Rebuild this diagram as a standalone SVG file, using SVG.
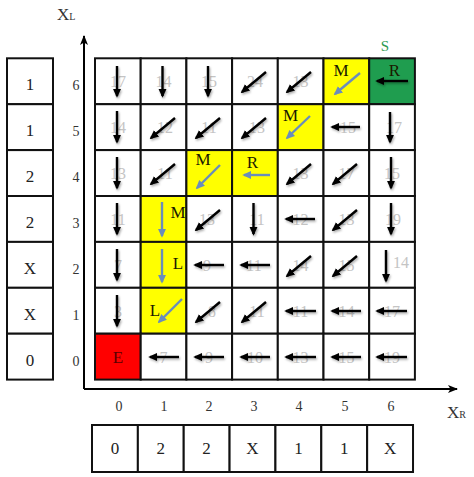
<svg xmlns="http://www.w3.org/2000/svg" width="474" height="477" viewBox="0 0 474 477">
<style>
text{font-family:"Liberation Serif","Times New Roman",serif;}
.cell{fill:#fff;stroke:#111;stroke-width:2;}
.yel{fill:#ffff00;}
.grn{fill:#1f9d4f;}
.red{fill:#ff0000;}
.tb{fill:#fff;stroke:#111;stroke-width:2;}
.ghost{font-size:16px;fill:#c4c4c4;text-anchor:middle;}
.lab{font-size:17px;fill:#222;text-anchor:middle;}
.ax{font-size:14px;fill:#333;text-anchor:middle;}
.ltr{font-size:17px;fill:#1a1a00;text-anchor:middle;}
.a{stroke:#000;stroke-width:2.4;fill:none;marker-end:url(#hb);filter:url(#sh);}
.b{stroke:#6a8dbb;stroke-width:2.4;fill:none;marker-end:url(#hl);}
.axis{stroke:#000;stroke-width:2;fill:none;marker-end:url(#ha);}
</style>
<defs>
<filter id="sh" filterUnits="userSpaceOnUse" x="0" y="0" width="474" height="477"><feDropShadow dx="1" dy="1.5" stdDeviation="1" flood-color="#000" flood-opacity="0.35"/></filter>
<marker id="hb" viewBox="0 0 10 10" refX="8" refY="5" markerWidth="9" markerHeight="9" markerUnits="userSpaceOnUse" orient="auto"><path d="M0,0.5 L10,5 L0,9.5 z" fill="#000"/></marker>
<marker id="hl" viewBox="0 0 10 10" refX="8" refY="5" markerWidth="9" markerHeight="9" markerUnits="userSpaceOnUse" orient="auto"><path d="M0,0.5 L10,5 L0,9.5 z" fill="#6a8dbb"/></marker>
<marker id="ha" viewBox="0 0 10 10" refX="9" refY="5" markerWidth="10" markerHeight="10" markerUnits="userSpaceOnUse" orient="auto"><path d="M0,1 L10,5 L0,9 L2.5,5 z" fill="#000"/></marker>
</defs>

<g id="axes">
<path class="axis" d="M84,389 V36"/>
<path class="axis" d="M84,389 H457"/>
<text x="57" y="20" style="font-size:17px;fill:#333">X<tspan style="font-size:10px">L</tspan></text>
<text x="447" y="418" style="font-size:17px;fill:#333">X<tspan style="font-size:10px">R</tspan></text>
<text x="385" y="51" style="font-size:15px;fill:#2e9a52;text-anchor:middle">S</text>
</g>

<g id="row-labels" class="ax">
<text x="76" y="90">6</text><text x="76" y="136">5</text><text x="76" y="182">4</text><text x="76" y="228">3</text><text x="76" y="274">2</text><text x="76" y="320">1</text><text x="76" y="366">0</text>
</g>
<g id="col-labels" class="ax">
<text x="119" y="411">0</text><text x="164" y="411">1</text><text x="209" y="411">2</text><text x="254" y="411">3</text><text x="299" y="411">4</text><text x="345" y="411">5</text><text x="391" y="411">6</text>
</g>

<g id="left-table">
<rect class="tb" x="7" y="58.3" width="46" height="45.9"/><text class="lab" x="30" y="90">1</text>
<rect class="tb" x="7" y="104.2" width="46" height="45.9"/><text class="lab" x="30" y="136">1</text>
<rect class="tb" x="7" y="150.1" width="46" height="45.9"/><text class="lab" x="30" y="182">2</text>
<rect class="tb" x="7" y="196" width="46" height="45.9"/><text class="lab" x="30" y="228">2</text>
<rect class="tb" x="7" y="241.9" width="46" height="45.9"/><text class="lab" x="30" y="274">X</text>
<rect class="tb" x="7" y="287.8" width="46" height="45.9"/><text class="lab" x="30" y="320">X</text>
<rect class="tb" x="7" y="333.7" width="46" height="45.9"/><text class="lab" x="30" y="366">0</text>
</g>

<g id="bottom-table">
<rect class="tb" x="92" y="425" width="45.86" height="47"/><text class="lab" x="114.9" y="454">0</text>
<rect class="tb" x="137.86" y="425" width="45.86" height="47"/><text class="lab" x="160.8" y="454">2</text>
<rect class="tb" x="183.72" y="425" width="45.86" height="47"/><text class="lab" x="206.6" y="454">2</text>
<rect class="tb" x="229.58" y="425" width="45.86" height="47"/><text class="lab" x="252.5" y="454">X</text>
<rect class="tb" x="275.44" y="425" width="45.86" height="47"/><text class="lab" x="298.4" y="454">1</text>
<rect class="tb" x="321.3" y="425" width="45.86" height="47"/><text class="lab" x="344.2" y="454">1</text>
<rect class="tb" x="367.16" y="425" width="45.86" height="47"/><text class="lab" x="390.1" y="454">X</text>
</g>

<!-- Row 6 -->
<g id="c0-6"><rect class="cell" x="95" y="58.3" width="45.7" height="45.9"/><text class="ghost" x="118" y="87">17</text><path class="a" d="M117,66 V96"/></g>
<g id="c1-6"><rect class="cell" x="140.7" y="58.3" width="45.7" height="45.9"/><text class="ghost" x="163.5" y="87">14</text><path class="a" d="M162.5,66 V96"/></g>
<g id="c2-6"><rect class="cell" x="186.4" y="58.3" width="45.7" height="45.9"/><text class="ghost" x="209" y="87">15</text><path class="a" d="M208,66 V96"/></g>
<g id="c3-6"><rect class="cell" x="232.1" y="58.3" width="45.7" height="45.9"/><text class="ghost" x="255" y="87">24</text><path class="a" d="M266,72 L242,92"/></g>
<g id="c4-6"><rect class="cell" x="277.8" y="58.3" width="45.7" height="45.9"/><text class="ghost" x="300.5" y="87">13</text><path class="a" d="M311,72 L287,92"/></g>
<g id="c5-6"><rect class="cell yel" x="323.5" y="58.3" width="45.7" height="45.9"/><text class="ltr" x="341" y="76">M</text><path class="b" d="M360,73 L335,94"/></g>
<g id="c6-6"><rect class="cell grn" x="369.2" y="58.3" width="45.7" height="45.9"/><text class="ltr" x="394.5" y="76">R</text><path class="a" d="M408,81 H377"/></g>

<!-- Row 5 -->
<g id="c0-5"><rect class="cell" x="95" y="104.2" width="45.7" height="45.9"/><text class="ghost" x="118" y="133">14</text><path class="a" d="M117,111 V142"/></g>
<g id="c1-5"><rect class="cell" x="140.7" y="104.2" width="45.7" height="45.9"/><text class="ghost" x="165" y="133">12</text><path class="a" d="M175,118 L151,138"/></g>
<g id="c2-5"><rect class="cell" x="186.4" y="104.2" width="45.7" height="45.9"/><text class="ghost" x="209" y="133">11</text><path class="a" d="M220,118 L196,138"/></g>
<g id="c3-5"><rect class="cell" x="232.1" y="104.2" width="45.7" height="45.9"/><text class="ghost" x="257" y="133">13</text><path class="a" d="M266,118 L242,138"/></g>
<g id="c4-5"><rect class="cell yel" x="277.8" y="104.2" width="45.7" height="45.9"/><text class="ltr" x="290.5" y="121">M</text><path class="b" d="M310,116 L287,138"/></g>
<g id="c5-5"><rect class="cell" x="323.5" y="104.2" width="45.7" height="45.9"/><text class="ghost" x="348" y="133">15</text><path class="a" d="M360,127 H332"/></g>
<g id="c6-5"><rect class="cell" x="369.2" y="104.2" width="45.7" height="45.9"/><text class="ghost" x="394" y="133">17</text><path class="a" d="M390,112 V142"/></g>

<!-- Row 4 -->
<g id="c0-4"><rect class="cell" x="95" y="150.1" width="45.7" height="45.9"/><text class="ghost" x="118" y="179">13</text><path class="a" d="M117,157 V188"/></g>
<g id="c1-4"><rect class="cell" x="140.7" y="150.1" width="45.7" height="45.9"/><text class="ghost" x="165" y="179">11</text><path class="a" d="M175,164 L151,184"/></g>
<g id="c2-4"><rect class="cell yel" x="186.4" y="150.1" width="45.7" height="45.9"/><text class="ltr" x="203" y="165">M</text><path class="b" d="M220,165 L197,188"/></g>
<g id="c3-4"><rect class="cell yel" x="232.1" y="150.1" width="45.7" height="45.9"/><text class="ltr" x="252.5" y="168">R</text><path class="b" d="M270,175 H244"/></g>
<g id="c4-4"><rect class="cell" x="277.8" y="150.1" width="45.7" height="45.9"/><text class="ghost" x="300.5" y="179">13</text><path class="a" d="M311,164 L287,184"/></g>
<g id="c5-4"><rect class="cell" x="323.5" y="150.1" width="45.7" height="45.9"/><text class="ghost" x="346.5" y="179">17</text><path class="a" d="M357,164 L333,184"/></g>
<g id="c6-4"><rect class="cell" x="369.2" y="150.1" width="45.7" height="45.9"/><text class="ghost" x="392" y="179">15</text><path class="a" d="M391,157 V188"/></g>

<!-- Row 3 -->
<g id="c0-3"><rect class="cell" x="95" y="196" width="45.7" height="45.9"/><text class="ghost" x="118" y="225">11</text><path class="a" d="M117,203 V234"/></g>
<g id="c1-3"><rect class="cell yel" x="140.7" y="196" width="45.7" height="45.9"/><text class="ltr" x="178" y="218">M</text><path class="b" d="M162,202 V236"/></g>
<g id="c2-3"><rect class="cell" x="186.4" y="196" width="45.7" height="45.9"/><text class="ghost" x="207" y="225">13</text><path class="a" d="M220,210 L196,230"/></g>
<g id="c3-3"><rect class="cell" x="232.1" y="196" width="45.7" height="45.9"/><text class="ghost" x="257" y="225">11</text><path class="a" d="M253.5,203 V234"/></g>
<g id="c4-3"><rect class="cell" x="277.8" y="196" width="45.7" height="45.9"/><text class="ghost" x="300.5" y="225">12</text><path class="a" d="M315,219 H286"/></g>
<g id="c5-3"><rect class="cell" x="323.5" y="196" width="45.7" height="45.9"/><text class="ghost" x="346.5" y="225">13</text><path class="a" d="M357,210 L333,230"/></g>
<g id="c6-3"><rect class="cell" x="369.2" y="196" width="45.7" height="45.9"/><text class="ghost" x="393" y="225">19</text><path class="a" d="M391,203 V234"/></g>

<!-- Row 2 -->
<g id="c0-2"><rect class="cell" x="95" y="241.9" width="45.7" height="45.9"/><text class="ghost" x="118" y="271">7</text><path class="a" d="M117,249 V280"/></g>
<g id="c1-2"><rect class="cell yel" x="140.7" y="241.9" width="45.7" height="45.9"/><text class="ltr" x="178" y="269">L</text><path class="b" d="M162,249 V282"/></g>
<g id="c2-2"><rect class="cell" x="186.4" y="241.9" width="45.7" height="45.9"/><text class="ghost" x="207" y="271">9</text><path class="a" d="M224,265 H195"/></g>
<g id="c3-2"><rect class="cell" x="232.1" y="241.9" width="45.7" height="45.9"/><text class="ghost" x="254" y="271">11</text><path class="a" d="M270,265 H241"/></g>
<g id="c4-2"><rect class="cell" x="277.8" y="241.9" width="45.7" height="45.9"/><text class="ghost" x="300.5" y="271">14</text><path class="a" d="M311,256 L287,276"/></g>
<g id="c5-2"><rect class="cell" x="323.5" y="241.9" width="45.7" height="45.9"/><text class="ghost" x="346.5" y="271">15</text><path class="a" d="M357,256 L333,276"/></g>
<g id="c6-2"><rect class="cell" x="369.2" y="241.9" width="45.7" height="45.9"/><text class="ghost" x="401" y="268">14</text><path class="a" d="M386,250 V281"/></g>

<!-- Row 1 -->
<g id="c0-1"><rect class="cell" x="95" y="287.8" width="45.7" height="45.9"/><text class="ghost" x="118" y="317">3</text><path class="a" d="M117,295 V326"/></g>
<g id="c1-1"><rect class="cell yel" x="140.7" y="287.8" width="45.7" height="45.9"/><text class="ltr" x="155" y="316">L</text><path class="b" d="M182,299 L159,322"/></g>
<g id="c2-1"><rect class="cell" x="186.4" y="287.8" width="45.7" height="45.9"/><text class="ghost" x="212" y="317">8</text><path class="a" d="M220,302 L196,322"/></g>
<g id="c3-1"><rect class="cell" x="232.1" y="287.8" width="45.7" height="45.9"/><text class="ghost" x="257" y="317">11</text><path class="a" d="M266,302 L242,322"/></g>
<g id="c4-1"><rect class="cell" x="277.8" y="287.8" width="45.7" height="45.9"/><text class="ghost" x="300.5" y="317">11</text><path class="a" d="M316,311 H286"/></g>
<g id="c5-1"><rect class="cell" x="323.5" y="287.8" width="45.7" height="45.9"/><text class="ghost" x="346.5" y="317">14</text><path class="a" d="M361,311 H332"/></g>
<g id="c6-1"><rect class="cell" x="369.2" y="287.8" width="45.7" height="45.9"/><text class="ghost" x="392" y="317">17</text><path class="a" d="M407,311 H377"/></g>

<!-- Row 0 -->
<g id="c0-0"><rect class="cell red" x="95" y="333.7" width="45.7" height="45.9"/><text class="ltr" x="118" y="363" style="fill:#5a0000">E</text></g>
<g id="c1-0"><rect class="cell" x="140.7" y="333.7" width="45.7" height="45.9"/><text class="ghost" x="163.5" y="363">7</text><path class="a" d="M179,357 H150"/></g>
<g id="c2-0"><rect class="cell" x="186.4" y="333.7" width="45.7" height="45.9"/><text class="ghost" x="209" y="363">9</text><path class="a" d="M224,357 H195"/></g>
<g id="c3-0"><rect class="cell" x="232.1" y="333.7" width="45.7" height="45.9"/><text class="ghost" x="255" y="363">10</text><path class="a" d="M270,357 H241"/></g>
<g id="c4-0"><rect class="cell" x="277.8" y="333.7" width="45.7" height="45.9"/><text class="ghost" x="300.5" y="363">13</text><path class="a" d="M316,357 H286"/></g>
<g id="c5-0"><rect class="cell" x="323.5" y="333.7" width="45.7" height="45.9"/><text class="ghost" x="346.5" y="363">15</text><path class="a" d="M361,357 H332"/></g>
<g id="c6-0"><rect class="cell" x="369.2" y="333.7" width="45.7" height="45.9"/><text class="ghost" x="392" y="363">19</text><path class="a" d="M407,357 H377"/></g>
</svg>
